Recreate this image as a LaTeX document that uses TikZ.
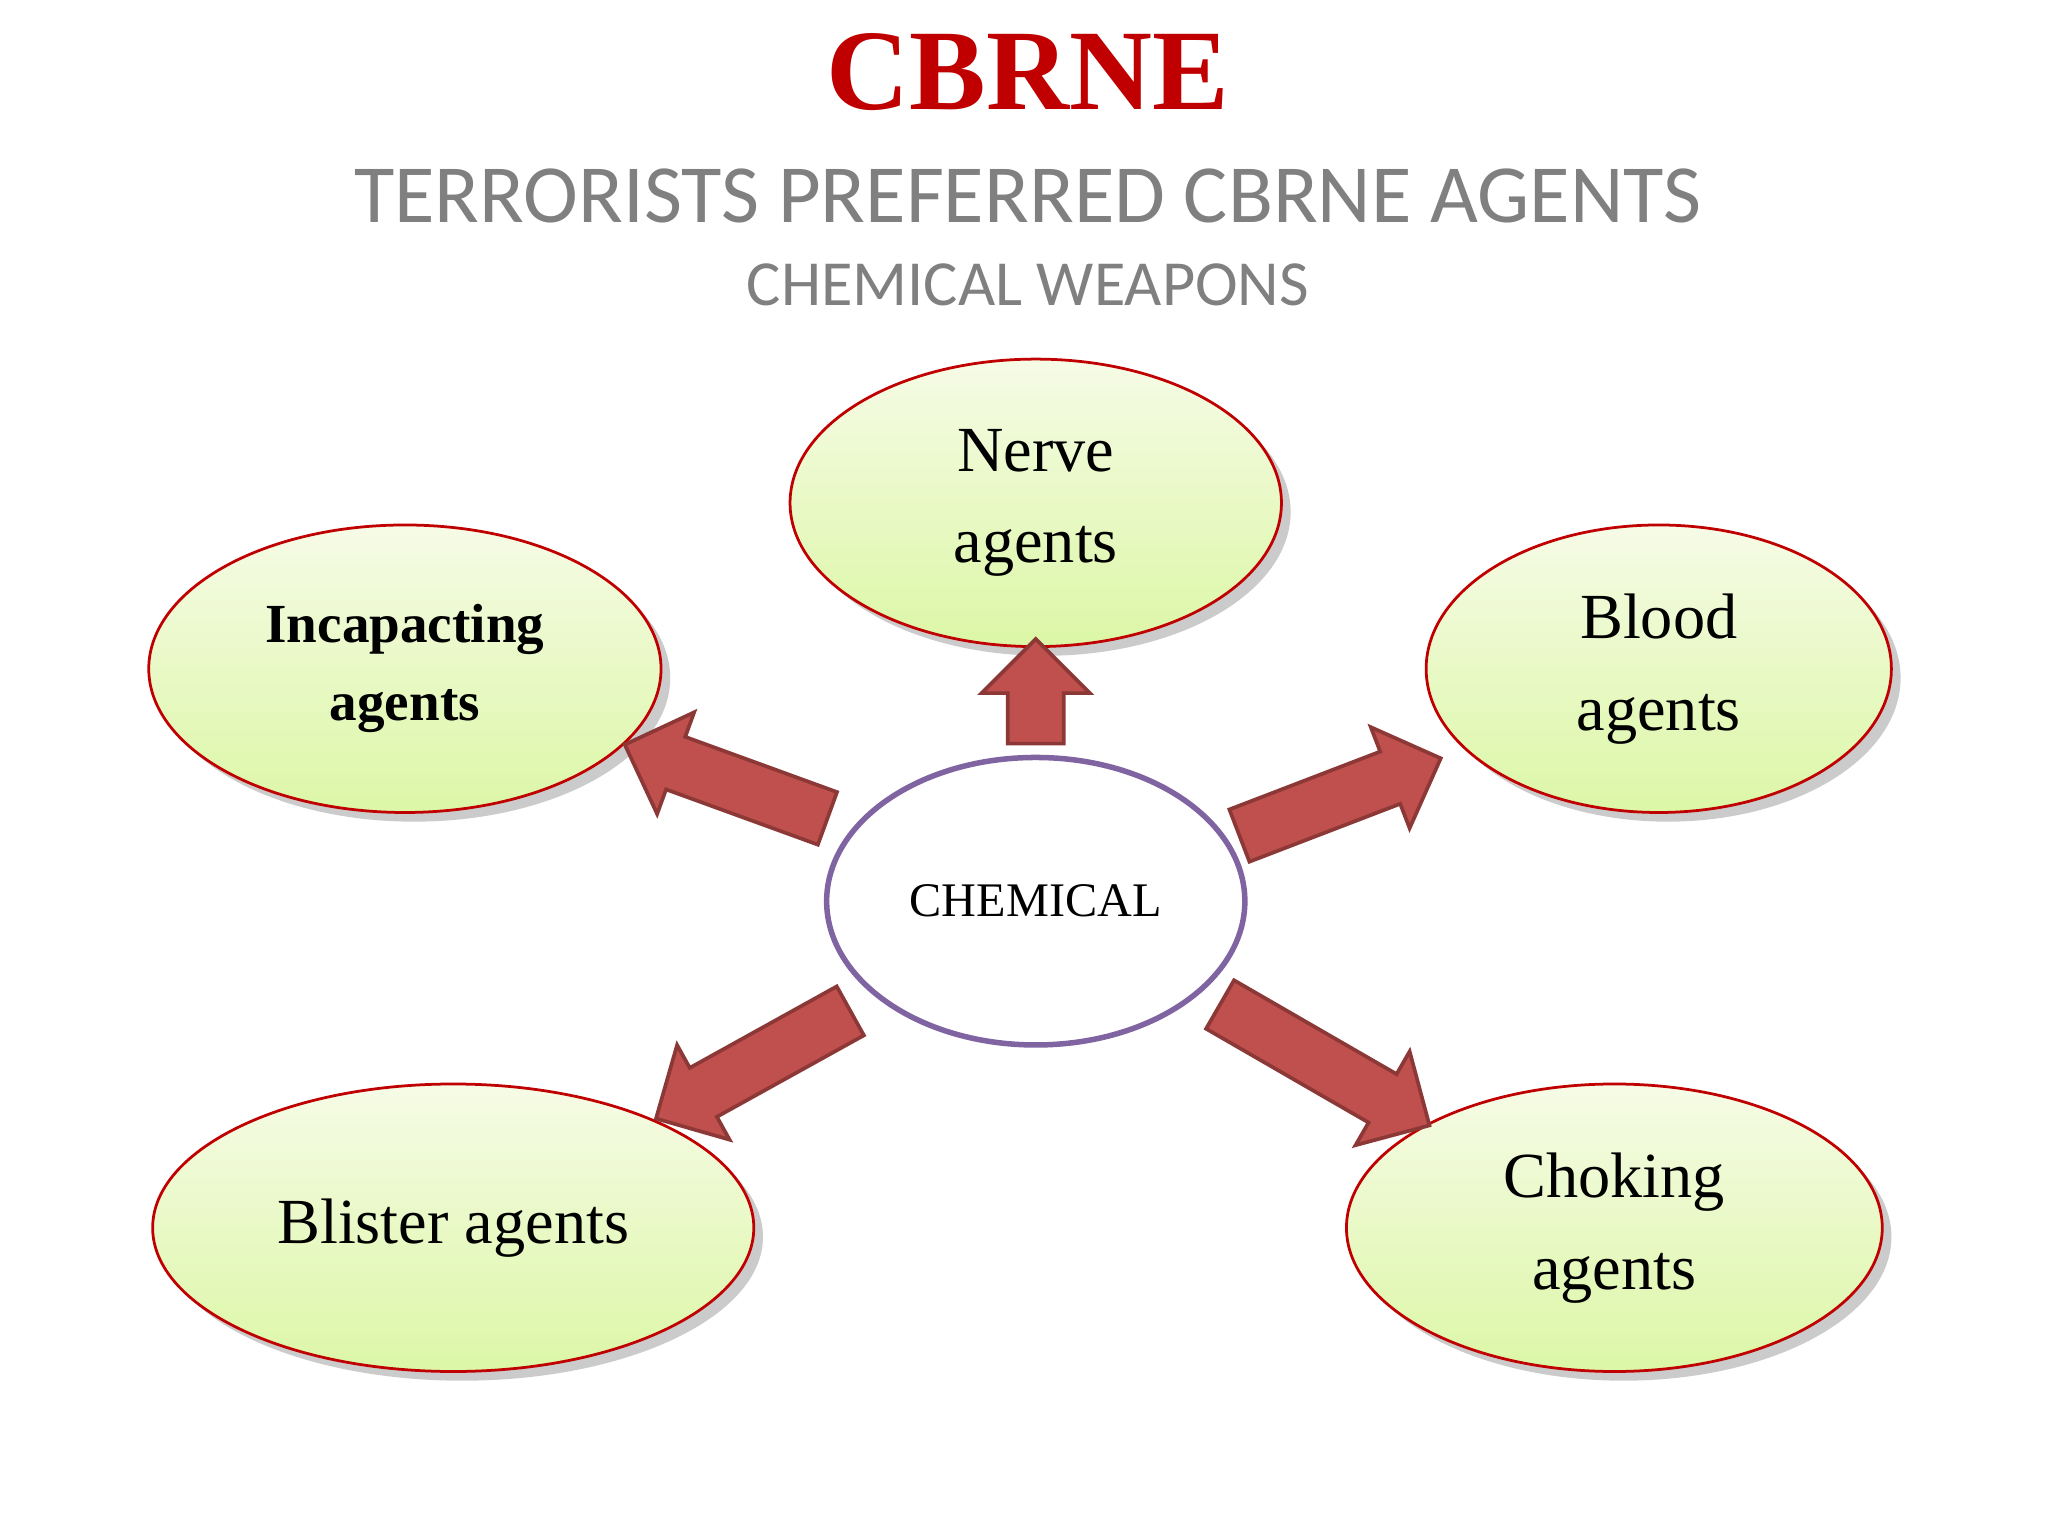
\documentclass[tikz,border=0pt]{standalone}
\usepackage{fontspec}
\setmainfont{Liberation Serif}
\newfontfamily\calib{Carlito}
\usetikzlibrary{shapes.arrows,shapes.geometric,shadows}
\definecolor{arrfill}{HTML}{C0504D}
\definecolor{arrdraw}{HTML}{8C3836}
\definecolor{ebord}{HTML}{C00000}
\definecolor{etop}{HTML}{F6FBE6}
\definecolor{ebot}{HTML}{DCF7A6}
\definecolor{titlered}{HTML}{C00000}
\definecolor{purp}{HTML}{8064A2}
\tikzset{
 px/.style={x=0.01cm,y=-0.01cm},
 agent/.style={ellipse,draw=ebord,line width=0.6pt,top color=etop,bottom color=ebot,
   drop shadow={shadow xshift=2pt,shadow yshift=-2pt,fill=black!40,opacity=0.5},
   align=center,font=\fontsize{14}{20}\selectfont,inner sep=0pt},
 blk/.style={single arrow,draw=arrdraw,fill=arrfill,line width=0.8pt,
   minimum width=0.8cm,single arrow head extend=0.2cm,single arrow head indent=0pt,
   inner xsep=0pt,inner ysep=0.2cm,minimum height=#1}
}
\begin{document}
\begin{tikzpicture}[px]
\useasboundingbox (0,0) rectangle (1568,1176);
\fill[white] (0,0) rectangle (1568,1176);
\node[font=\fontsize{25}{27}\selectfont\bfseries,text=titlered] (title) at (787,55) {CBRNE};
\node[font=\calib\fontsize{18}{20}\selectfont,text=black!50] (sub) at (787,150) {TERRORISTS PREFERRED CBRNE AGENTS};
\node[font=\calib\fontsize{14}{16}\selectfont,text=black!50] (sub2) at (787,218) {CHEMICAL WEAPONS};

\node[agent,minimum width=3.76cm,minimum height=2.2cm] (nerve) at (793,385) {Nerve\\agents};
\node[agent,minimum width=3.92cm,minimum height=2.2cm,font=\fontsize{12}{17}\selectfont\bfseries] (inc) at (310,512) {Incapacting\\agents};
\node[agent,minimum width=3.56cm,minimum height=2.2cm] (blood) at (1270,512) {Blood\\agents};
\node[agent,minimum width=4.6cm,minimum height=2.2cm] (blister) at (347,940) {Blister agents};
\node[agent,minimum width=4.1cm,minimum height=2.2cm] (chok) at (1236,940) {Choking\\agents};
\node[ellipse,draw=purp,line width=1.2pt,fill=white,minimum width=3.2cm,minimum height=2.2cm,
  font=\fontsize{10.5}{12}\selectfont] (chem) at (793,690) {CHEMICAL};

\node[blk=0.8cm,rotate=90] (a1) at (793,540) {};
\node[blk=1.65cm,rotate=160] (a2) at (566,602) {};
\node[blk=1.65cm,rotate=21] (a3) at (1016,614) {};
\node[blk=1.7cm,rotate=209] (a4) at (586,810) {};
\node[blk=1.85cm,rotate=-30] (a5) at (1005,810) {};
\end{tikzpicture}
\end{document}
